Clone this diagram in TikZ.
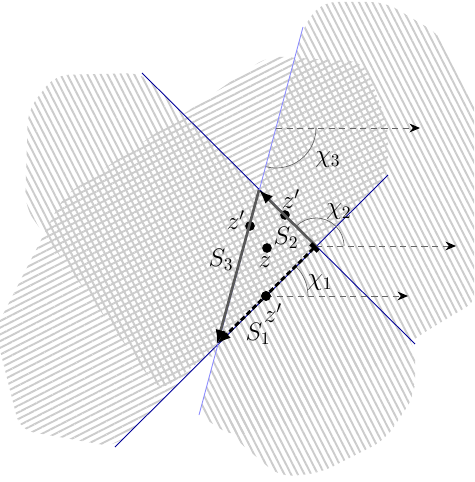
\documentclass[tikz,border=0pt]{standalone}
\usetikzlibrary{arrows.meta,patterns.meta}
\begin{document}
\begin{tikzpicture}[x=0.02cm, y=-0.02cm, font=\Large,
    hatchA/.style={pattern={Lines[angle=27, distance=3.4pt, line width=1.1pt]}, pattern color=gray!40},
    hatchB/.style={pattern={Lines[angle=-63, distance=3.4pt, line width=1.1pt]}, pattern color=gray!40},
    bound/.style={blue!60!black, line width=0.5pt},
    horiz/.style={gray!80!black, dash pattern=on 3.5pt off 2.5pt, line width=0.5pt, -{Stealth[color=black, length=6pt, width=5pt]}},
    anglearc/.style={gray!80!black, line width=0.4pt},
    sideedge/.style={gray!70!black, line width=1.5pt, -{Latex[color=black, length=8pt, width=6pt]}},
    dot/.style={circle, fill=black, inner sep=0pt, minimum size=5.5pt}]
    \useasboundingbox (0,0) rectangle (474,482);
    \clip (0,0) rectangle (474,482);

    % Triangle corners and points on the sides
    \coordinate (A) at (217,344); \coordinate (B) at (259,190);
    \coordinate (C) at (316,246); \coordinate (P3) at (276,128);
    % End points of the three boundary lines
    \coordinate (L1a) at (115,447); \coordinate (L1b) at (388,175);
    \coordinate (L2a) at (142,73);  \coordinate (L2b) at (415,344);
    \coordinate (L3a) at (303,27);  \coordinate (L3b) at (199,415);
    % Ends of the horizontal arrows
    \coordinate (H1) at (408,296); \coordinate (H2) at (456,246);
    \coordinate (H3) at (420,128);

    % Hatched half planes
    \path[hatchA, rounded corners=8pt] (L1a) -- (L1b) -- (388,125) -- (364,62) -- (268,56)
        -- (63,197) -- (-5,330) -- (20,430) -- cycle;
    \path[hatchB, rounded corners=8pt] (L2a) -- (L2b) -- (415,395) -- (385,440) -- (320,473)
        -- (280,477) -- (233,437) -- (214,350) -- (160,392) -- (43,233) -- (25,207)
        -- (28,110) -- (55,75) -- cycle;
    \path[hatchB, rounded corners=8pt] (L3a) -- (L3b) -- (233,437) -- (300,420) -- (420,335)
        -- (478,300) -- (478,110) -- (440,35) -- (385,2) -- (322,2) -- cycle;

    \draw[bound] (L1a) -- (L1b);
    \draw[bound] (L2a) -- (L2b);
    \draw[bound, blue!45] (L3a) -- (L3b);

    % Points z and z'
    \node[dot] (m1) at (266,296) {};
    \node[dot] (m2) at (285,215) {};
    \node[dot] (m3) at (250,226) {};
    \node[dot] (z) at (267,248) {};

    % Angles chi
    \draw[horiz] (m1.center) -- (H1);
    \draw[horiz] (C) -- (H2);
    \draw[horiz] (P3) -- (H3);
    \draw[anglearc] (m1.center) ++(42,0) arc[start angle=0, end angle=45, radius=0.84cm];
    \draw[anglearc] (C) ++(28,0) arc[start angle=0, end angle=135, radius=0.56cm];
    \draw[anglearc] (P3) ++(40,0) arc[start angle=0, end angle=-105, radius=0.8cm];

    % Sides of the triangle
    \draw[sideedge] (C) -- (B);
    \draw[sideedge] (B) -- (A);
    \draw[line width=1.6pt, dash pattern=on 3pt off 1.6pt,
        {Bar[width=6pt, line width=2.5pt]}-{Latex[length=8pt, width=6pt]}] (C) -- (A);
    \node[dot] at (m1) {};

    \node (lSone) at (258,334) {$S_1$};
    \node (lStwo) at (286,238) {$S_2$};
    \node (lSthree) at (221,260) {$S_3$};
    \node (lzone) at (273,313) {$z'$};
    \node (lztwo) at (291,199) {$z'$};
    \node (lzthree) at (236,220) {$z'$};
    \node (lz) at (265,262) {$z$};
    \node (lchione) at (320,283) {$\chi_1$};
    \node (lchitwo) at (339,212) {$\chi_2$};
    \node (lchithree) at (328,160) {$\chi_3$};
\end{tikzpicture}
\end{document}
